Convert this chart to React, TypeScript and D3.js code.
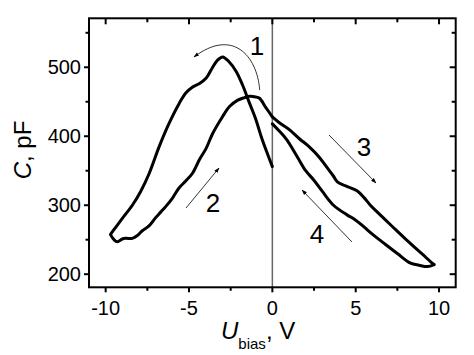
import React from "react";
import * as d3 from "d3";

const b1V = [0, -0.3, -0.66, -1.0, -1.37, -1.8, -2.17, -2.6, -2.98, -3.3, -3.58, -3.98, -4.4, -4.8, -5.18, -5.58, -6.19, -6.79, -7.39, -7.9, -8.4, -9.0, -9.4, -9.7];
const b1C = [356, 375, 399, 425, 448, 475, 494, 508, 515, 510, 500, 484, 476, 471, 463, 448, 419, 385, 346, 320, 300, 281, 268, 258];

const b2V = [-9.7, -9.5, -9.3, -9.0, -8.8, -8.4, -8.1, -7.8, -7.4, -7.0, -6.7, -6.4, -6.0, -5.6, -5.2, -4.8, -4.58, -4.38, -3.98, -3.58, -3.0, -2.57, -2.1, -1.67, -1.37, -1.0, -0.77, -0.4, 0];
const b2C = [257, 250, 247, 251, 252, 252, 256, 263, 270, 282, 290, 298, 310, 325, 335, 346, 356, 366, 382, 404, 428, 443, 452, 456, 458, 457, 455, 442, 428];

const b3V = [0, 0.4, 1.0, 1.64, 2.2, 2.8, 3.3, 3.67, 3.9, 4.4, 5.08, 5.5, 5.88, 6.3, 6.69, 7.29, 7.9, 8.49, 9.0, 9.5, 9.7];
const b3C = [428, 420, 410, 396, 385, 370, 354, 342, 334, 328, 321, 311, 300, 290, 281, 267, 253, 240, 229, 218, 214];

const b4V = [9.7, 9.3, 8.8, 8.29, 7.5, 6.69, 6.0, 5.48, 4.9, 4.48, 3.67, 3.0, 2.47, 2.0, 1.5, 0.86, 0.4, 0];
const b4C = [214, 211, 213, 216, 230, 245, 258, 269, 280, 286, 300, 320, 337, 350, 370, 395, 408, 418];

const xMajor = [-10, -5, 0, 5, 10];
const xMinor = [-7.5, -2.5, 2.5, 7.5];
const yMajor = [200, 300, 400, 500];
const yMinor = [250, 350, 450, 550];

const L = 89, R = 455.7, T = 18.3, B = 287.3;
const FONT = "'Liberation Sans', Arial, sans-serif";

export default function App() {
  const x = d3.scaleLinear().domain([-11, 11]).range([L, R]);
  const y = d3.scaleLinear().domain([181, 571]).range([B, T]);
  const line = d3
    .line<[number, number]>()
    .x((d) => x(d[0]))
    .y((d) => y(d[1]))
    .curve(d3.curveCatmullRom.alpha(0.5));
  const branches = [
    [b1V, b1C],
    [b2V, b2C],
    [b3V, b3C],
    [b4V, b4C],
  ].map(([vs, cs]) => vs.map((v, i) => [v, cs[i]] as [number, number]));

  return (
    <svg width={474} height={355} style={{ position: "absolute", left: 0, top: 0 }}>
      <defs>
        <marker id="ah" viewBox="0 0 10 10" refX="9" refY="5" markerWidth="7" markerHeight="7" orient="auto">
          <path d="M0,1.5 L10,5 L0,8.5 Z" fill="#000" />
        </marker>
      </defs>
      <rect x={0} y={0} width={474} height={355} fill="#fff" />
      <line x1={x(0)} x2={x(0)} y1={T} y2={B} stroke="#666" strokeWidth={1.5} />
      {branches.map((d, i) => (
        <path key={i} d={line(d) || ""} fill="none" stroke="#000" strokeWidth={3} strokeLinejoin="round" strokeLinecap="round" />
      ))}
      <rect x={L} y={T} width={R - L} height={B - T} fill="none" stroke="#000" strokeWidth={2} />
      {xMajor.map((v) => (
        <g key={"xM" + v}>
          <line x1={x(v)} x2={x(v)} y1={B} y2={B + 5} stroke="#000" strokeWidth={2} />
          <line x1={x(v)} x2={x(v)} y1={T} y2={T + 6} stroke="#000" strokeWidth={2} />
          <text x={x(v)} y={315} textAnchor="middle" fontFamily={FONT} fontSize={20}>
            {v}
          </text>
        </g>
      ))}
      {xMinor.map((v) => (
        <g key={"xm" + v}>
          <line x1={x(v)} x2={x(v)} y1={B} y2={B + 3.5} stroke="#000" strokeWidth={2} />
          <line x1={x(v)} x2={x(v)} y1={T} y2={T + 4} stroke="#000" strokeWidth={2} />
        </g>
      ))}
      {yMajor.map((v) => (
        <g key={"yM" + v}>
          <line x1={L - 5} x2={L} y1={y(v)} y2={y(v)} stroke="#000" strokeWidth={2} />
          <line x1={R - 6} x2={R} y1={y(v)} y2={y(v)} stroke="#000" strokeWidth={2} />
          <text x={81} y={y(v) + 7} textAnchor="end" fontFamily={FONT} fontSize={20}>
            {v}
          </text>
        </g>
      ))}
      {yMinor.map((v) => (
        <g key={"ym" + v}>
          <line x1={L - 3.5} x2={L} y1={y(v)} y2={y(v)} stroke="#000" strokeWidth={2} />
          <line x1={R - 4} x2={R} y1={y(v)} y2={y(v)} stroke="#000" strokeWidth={2} />
        </g>
      ))}
      <text transform="translate(31,150) rotate(-90)" textAnchor="middle" fontFamily={FONT} fontSize={24}>
        <tspan fontStyle="italic">C</tspan>, pF
      </text>
      <text x={221} y={339} fontFamily={FONT} fontSize={24}>
        <tspan fontStyle="italic">U</tspan>
        <tspan fontSize={15} dy={10}>bias</tspan>
        <tspan dy={-10}>, V</tspan>
      </text>
      <path d="M259.7,90 C257,55 232,28 194,57" fill="none" stroke="#000" strokeWidth={0.8} markerEnd="url(#ah)" />
      <line x1={186} y1={208} x2={219} y2={168} stroke="#000" strokeWidth={0.8} markerEnd="url(#ah)" />
      <line x1={329} y1={135} x2={376} y2={183} stroke="#000" strokeWidth={0.8} markerEnd="url(#ah)" />
      <line x1={352} y1={242} x2={302} y2={190} stroke="#000" strokeWidth={0.8} markerEnd="url(#ah)" />
      <g fontFamily={FONT} fontSize={26} textAnchor="middle">
        <text x={257} y={55}>1</text>
        <text x={213} y={212}>2</text>
        <text x={364} y={156}>3</text>
        <text x={317} y={243}>4</text>
      </g>
    </svg>
  );
}
